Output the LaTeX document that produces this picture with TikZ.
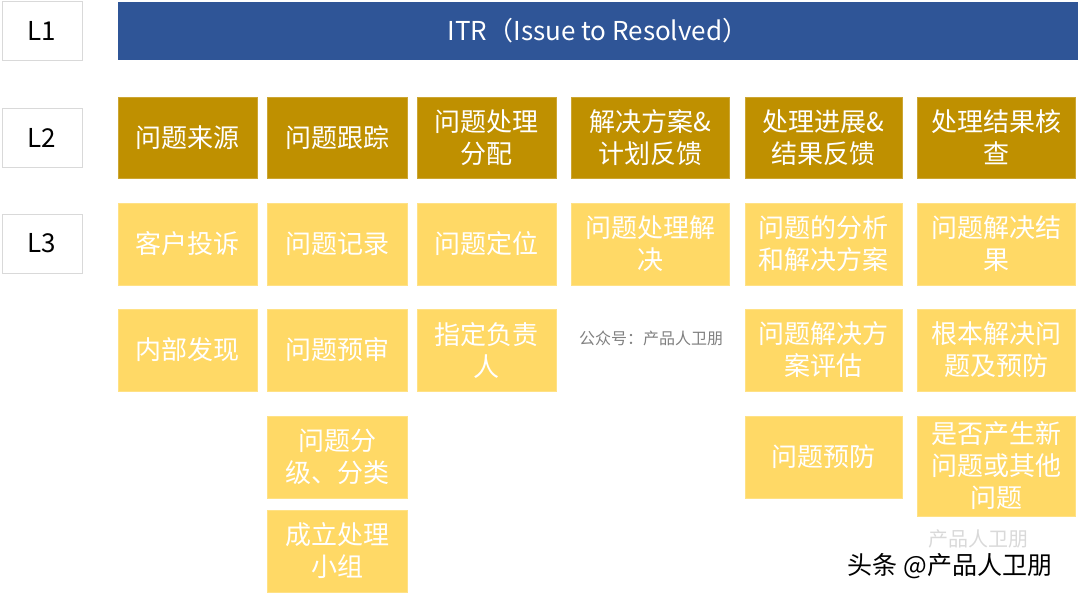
\documentclass[tikz,border=0pt]{standalone}
\usepackage{fontspec}
\setmainfont{Noto Sans CJK SC}
\definecolor{itrblue}{HTML}{2F5597}
\definecolor{darkgold}{HTML}{BF9000}
\definecolor{lightgold}{HTML}{FFD966}
\definecolor{lvlgray}{HTML}{D9D9D9}

\begin{document}
\begin{tikzpicture}[x=1pt,y=-1pt,
		lvl/.style={draw=lvlgray,fill=white,line width=0.8pt,minimum width=80pt,minimum height=59pt,font=\fontsize{26}{30}\selectfont,text=black},
		head/.style={fill=darkgold,draw=darkgold!80!white,line width=0.8pt,minimum height=81pt,font=\fontsize{26}{32}\selectfont,text=white,align=center,inner sep=0pt},
		item/.style={fill=lightgold,draw=lightgold!80!white,line width=0.8pt,minimum height=82pt,font=\fontsize{26}{32}\selectfont,text=white,align=center,inner sep=0pt}]
		\useasboundingbox (0,0) rectangle (1080,597);
		% level labels
		\node [lvl] (lone) at (42,30.5) {L1};
		\node [lvl] (ltwo) at (42,137.5) {L2};
		\node [lvl] (lthree) at (42,243.5) {L3};
		% L1
		\node [fill=itrblue,minimum width=960pt,minimum height=58pt,text=white,font=\fontsize{26}{30}\selectfont] (itr) at (598,31) {ITR（Issue to Resolved）};
		% L2
		\node [head,minimum width=139pt] (source) at (187.5,137.5) {问题来源};
		\node [head,minimum width=140pt] (track) at (337,137.5) {问题跟踪};
		\node [head,minimum width=139pt] (assign) at (486.5,137.5) {问题处理\\分配};
		\node [head,minimum width=158pt] (plan) at (650,137.5) {解决方案\&\\计划反馈};
		\node [head,minimum width=157pt] (progress) at (823.5,137.5) {处理进展\&\\结果反馈};
		\node [head,minimum width=158pt] (check) at (996,137.5) {处理结果核\\查};
		% L3
		\node [item,minimum width=139pt] (complaint) at (187.5,244) {客户投诉};
		\node [item,minimum width=139pt] (internal) at (187.5,350) {内部发现};
		\node [item,minimum width=140pt] (record) at (337,244) {问题记录};
		\node [item,minimum width=140pt] (review) at (337,350) {问题预审};
		\node [item,minimum width=140pt] (grade) at (337,457) {问题分\\级、分类};
		\node [item,minimum width=140pt] (team) at (337,551) {成立处理\\小组};
		\node [item,minimum width=139pt] (locate) at (486.5,244) {问题定位};
		\node [item,minimum width=139pt] (owner) at (486.5,350) {指定负责\\人};
		\node [item,minimum width=158pt] (solve) at (650,244) {问题处理解\\决};
		\node [item,minimum width=157pt] (analyse) at (823.5,244) {问题的分析\\和解决方案};
		\node [item,minimum width=157pt] (evaluate) at (823.5,350) {问题解决方\\案评估};
		\node [item,minimum width=157pt] (prevent) at (823.5,457) {问题预防};
		\node [item,minimum width=158pt] (result) at (996,244) {问题解决结\\果};
		\node [item,minimum width=158pt] (root) at (996,350) {根本解决问\\题及预防};
		\node [item,minimum width=158pt,minimum height=100pt] (newissue) at (996,466) {是否产生新\\问题或其他\\问题};
		% watermarks
		\node [text=gray,font=\fontsize{16}{18}\selectfont] (wechat) at (651,338) {公众号：产品人卫朋};
		\node [text=black!15,font=\fontsize{20}{22}\selectfont,inner sep=0pt] (faded) at (978,539) {产品人卫朋};
		\node [text=black,font=\fontsize{25}{27}\selectfont,inner sep=0pt] (toutiao) at (950,566) {头条 @产品人卫朋};
	\end{tikzpicture}
\end{document}
